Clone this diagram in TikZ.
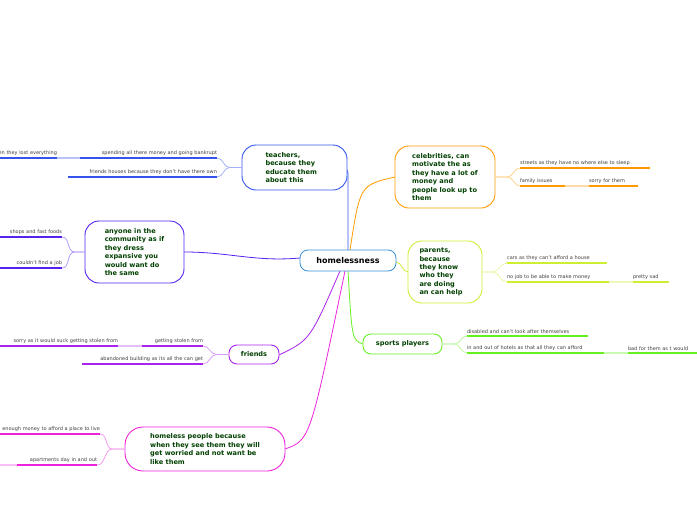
\documentclass[tikz,border=0pt]{standalone}
\usepackage{fontspec}
\setmainfont{DejaVu Sans}
\begin{document}
\begin{tikzpicture}[x=1pt,y=-1pt,
  topic/.style={draw,rounded corners=14pt,line width=0.9pt,fill=white,font=\bfseries\fontsize{6.6}{8.4}\selectfont,text=green!25!black,align=left,inner sep=0pt},
  leaf/.style={font=\fontsize{5}{6}\selectfont,text=black!75,inner xsep=0pt,inner ysep=1.8pt,anchor=south},
  ul/.style={line width=1.1pt},
  br/.style={line width=0.8pt}]
\definecolor{cT}{HTML}{3355EE}\definecolor{cA}{HTML}{5522EE}
\definecolor{cF}{HTML}{AA22EE}\definecolor{cH}{HTML}{EE22DD}
\definecolor{cC}{HTML}{FF9900}\definecolor{cP}{HTML}{CCEE33}
\definecolor{cS}{HTML}{66EE22}\definecolor{cM}{HTML}{3A8FD0}
\useasboundingbox (0,0) rectangle (697,520);
\clip (0,0) rectangle (697,520);
\newcommand\mkleaf[7]{\node[leaf,text width=#3-#2,align=#5] (#1) at ({(#2+#3)/2},#4) {#7};
  \draw[ul,#6] (#1.south west) -- (#1.south east);}
% main connectors
\draw[br,cT] (348,250) -- (348,175) to[out=90,in=0] (344,168);
\draw[br,cA] (300,258) to[out=185,in=0] (184,252);
\draw[br,cF] (340,271) .. controls (310,340) .. (279,355);
\draw[br,cH] (345,271) .. controls (310,440) .. (285,449);
\draw[br,cC] (350,250) .. controls (360,185) .. (395,177);
\draw[br,cP] (396,262) to[out=0,in=180] (408,272);
\draw[br,cS] (348,271) .. controls (352,340) .. (363,344);
% central
\node[draw=cM,line width=0.8pt,rounded corners=8pt,fill=white,minimum width=96pt,minimum height=21pt,font=\bfseries\fontsize{8}{9}\selectfont,text=black] (c) at (348,260.5) {homelessness};
% topics
\node[topic,draw=cT,minimum width=105pt,minimum height=45pt] (t) at (294.5,167.5) {teachers,\\because they\\educate them\\about this\hspace*{20pt}};
\node[topic,draw=cA,minimum width=99pt,minimum height=62pt] (a) at (134.5,252) {anyone in the\\community as if\\they dress\\expansive you\\would want do\\the same\hspace*{14pt}};
\node[topic,draw=cF,minimum width=50pt,minimum height=19pt,rounded corners=8pt,align=center] (f) at (254,354.5) {friends};
\node[topic,draw=cH,minimum width=160pt,minimum height=44pt,rounded corners=18pt] (h) at (205,449) {homeless people because\\when they see them they will\\get worried and not want be\\like them\hspace*{22pt}};
\node[topic,draw=cC,minimum width=100pt,minimum height=62pt] (ce) at (445,177) {celebrities, can\\motivate the as\\they have a lot of\\money and\\people look up to\\them\hspace*{12pt}};
\node[topic,draw=cP,minimum width=74pt,minimum height=62pt] (p) at (445,272) {parents,\\because\\they know\\who they\\are doing\\an can help\hspace*{8pt}};
\node[topic,draw=cS,minimum width=79pt,minimum height=20pt,rounded corners=8pt,align=center] (s) at (402.5,344) {sports players};
% teachers leaves
\mkleaf{t1}{80}{217}{158}{right}{cT}{spending all there money and going bankrupt}
\mkleaf{t1a}{-40}{57}{158}{right}{cT}{when they lost everything}
\draw[ul,cT!35] (t1a.south east) -- (t1.south west);
\mkleaf{t2}{68}{217}{177}{right}{cT}{friends houses because they don't have there own}
\draw[br,cT!45] (t.west) -- ++(-12,0) to[out=180,in=0] (t1.south east);
\draw[br,cT!45] (t.west) -- ++(-12,0) to[out=180,in=0] (t2.south east);
% anyone leaves
\mkleaf{a1}{-40}{62}{237}{right}{cA}{shops and fast foods}
\mkleaf{a2}{-40}{62}{268}{right}{cA}{couldn't find a job}
\draw[br,cA!45] (a.west) -- ++(-10,0) to[out=180,in=0] (a1.south east);
\draw[br,cA!45] (a.west) -- ++(-10,0) to[out=180,in=0] (a2.south east);
% friends leaves
\mkleaf{f1}{142}{203}{346}{right}{cF}{getting stolen from}
\mkleaf{f1a}{-40}{118}{346}{right}{cF}{sorry as it would suck getting stolen from}
\draw[ul,cF!30] (f1a.south east) -- (f1.south west);
\mkleaf{f2}{82}{203}{364}{right}{cF}{abandoned building as its all the can get}
\draw[br,cF!45] (f.west) -- ++(-12,0) to[out=180,in=0] (f1.south east);
\draw[br,cF!45] (f.west) -- ++(-12,0) to[out=180,in=0] (f2.south east);
% homeless leaves
\mkleaf{h1}{-60}{100}{434}{right}{cH}{enough money to afford a place to live}
\mkleaf{h2}{17}{97}{465}{right}{cH}{apartments day in and out}
\draw[ul,cH!30] (-10,465) -- (17,465);
\draw[br,cH!45] (h.west) -- ++(-12,0) to[out=180,in=0] (h1.south east);
\draw[br,cH!45] (h.west) -- ++(-12,0) to[out=180,in=0] (h2.south east);
% celebrities leaves
\mkleaf{c1}{520}{650}{168}{left}{cC}{streets as they have no where else to sleep}
\mkleaf{c2}{520}{565}{186}{left}{cC}{family issues}
\mkleaf{c3}{589}{638}{186}{left}{cC}{sorry for them}
\draw[ul,cC!35] (c2.south east) -- (c3.south west);
\draw[br,cC!45] (ce.east) -- ++(12,0) to[out=0,in=180] (c1.south west);
\draw[br,cC!45] (ce.east) -- ++(12,0) to[out=0,in=180] (c2.south west);
% parents leaves
\mkleaf{p1}{507}{607}{263}{left}{cP}{cars as they can't afford a house}
\mkleaf{p2}{507}{609}{282}{left}{cP}{no job to be able to make money}
\mkleaf{p3}{633}{669}{282}{left}{cP}{pretty sad}
\draw[ul,cP!35] (p2.south east) -- (p3.south west);
\draw[br,cP!45] (p.east) -- ++(10,0) to[out=0,in=180] (p1.south west);
\draw[br,cP!45] (p.east) -- ++(10,0) to[out=0,in=180] (p2.south west);
% sports leaves
\mkleaf{s1}{467}{588}{336}{left}{cS}{disabled and can't look after themselves}
\mkleaf{s2}{467}{604}{353}{left}{cS}{in and out of hotels as that all they can afford}
\mkleaf{s3}{628}{740}{353}{left}{cS}{bad for them as t would}
\draw[ul,cS!35] (s2.south east) -- (s3.south west);
\draw[br,cS!45] (s.east) -- ++(12,0) to[out=0,in=180] (s1.south west);
\draw[br,cS!45] (s.east) -- ++(12,0) to[out=0,in=180] (s2.south west);
\end{tikzpicture}
\end{document}
